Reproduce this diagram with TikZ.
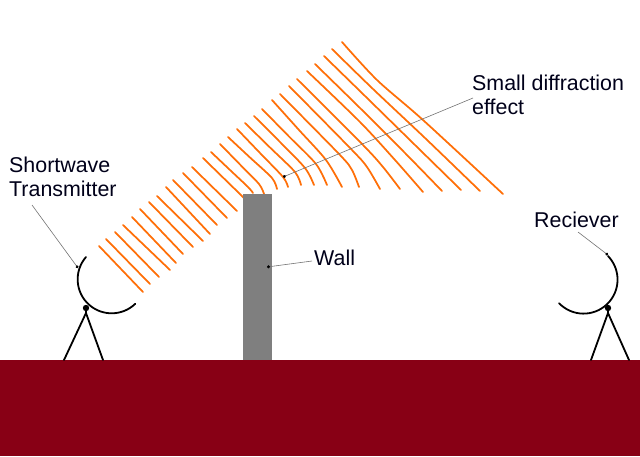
\documentclass[tikz,border=0pt]{standalone}
\usepackage{fontspec}
\setmainfont{Liberation Sans}
\usetikzlibrary{arrows.meta}
\definecolor{groundred}{HTML}{880015}
\definecolor{waveorange}{HTML}{FF6F08}
\definecolor{wallgrey}{HTML}{7F7F7F}
\tikzset{
  wave/.style={draw=waveorange, line width=1.75pt, line cap=round},
  dish/.style={draw=black, line width=1.8pt, line cap=round},
  leader/.style={draw=black!55, line width=0.6pt, -{Circle[black, length=3pt]}},
  label/.style={font=\fontsize{21.4}{24}\selectfont, inner sep=0pt, anchor=west, align=left, text=black!90!blue}
}
\begin{document}
\begin{tikzpicture}[x=1pt, y=-1pt]
\useasboundingbox (0,0) rectangle (640,456);
\foreach \ax/\ay/\bx/\by in {99/246/143/292, 106/239/150/284, 115/232/159/277, 123/225/170/270,
    132/217/176/263, 140/209/183/254, 149/202/193/247, 157/196/203/241, 166/187/210/234,
    173/180/217/225, 183/173/227/218, 192/167/237/211, 203/158/244/198}
  \draw[wave] (\ax,\ay) -- (\bx,\by);
\foreach \ax/\ay/\bx/\by/\cx/\cy/\dx/\dy in {211/152/230/170/248/187/253/193, 220/144/240/164.5/259/184/264/194,
    228/137/250/157.5/272/178/277/189, 237/129/260/153/283/177/288/187, 245/123/270/147.5/295/172/301/185,
    254/116/280/142/305/168/314/185, 262/109/289/136.5/316/164/327/185, 272/100/299/130/326/160/342/187,
    280/94/340/155/352/170/359/187, 289/86/352/150/367/167/380/189, 297/79/363/145/383/167/400/189,
    307/71/360/122/395/160/423/192, 315/64/360/108/405/153/442/191, 324/56/365/96/415/145/461/190,
    332/49/373/89/425/138/480/191, 342/42/377/80/423/120/503/194}
  \draw[wave] plot[smooth, tension=0.5] coordinates {(\ax,\ay) (\bx,\by) (\cx,\cy) (\dx,\dy)};
\fill[groundred] (0,360) rectangle (640,456);
\fill[wallgrey] (243,194) rectangle (272,360);
\draw[dish] (86,257) arc[start angle=221, end angle=46, radius=34];
\draw[dish] (608,256) arc[start angle=-44, end angle=136, radius=34];
\coordinate (txtop) at (86,308);
\coordinate (rxtop) at (608,308);
\fill (txtop) circle (3.2);
\fill (rxtop) circle (3.2);
\draw[dish] (txtop) -- (86,313) -- (64,360);
\draw[dish] (86,313) -- (103,360);
\draw[dish] (rxtop) -- (608,313) -- (591,360);
\draw[dish] (608,313) -- (629,360);
\node[label] (txlabel) at (9,177) {Shortwave\\Transmitter};
\node[label] (walllabel) at (314,258) {Wall};
\node[label] (rxlabel) at (534,220) {Reciever};
\node[label] (difflabel) at (472,95) {Small diffraction\\effect};
\coordinate (txfrom) at (32,205);
\coordinate (txdish) at (78,268);
\coordinate (wallfrom) at (312,261);
\coordinate (wallpt) at (267,267);
\coordinate (rxfrom) at (578,232);
\coordinate (rxdish) at (608,255);
\coordinate (difffrom) at (473,98);
\coordinate (diffpt) at (283,177);
\draw[leader] (txfrom) -- (txdish);
\draw[leader] (wallfrom) -- (wallpt);
\draw[leader] (rxfrom) -- (rxdish);
\draw[leader] (difffrom) -- (diffpt);
\end{tikzpicture}
\end{document}
